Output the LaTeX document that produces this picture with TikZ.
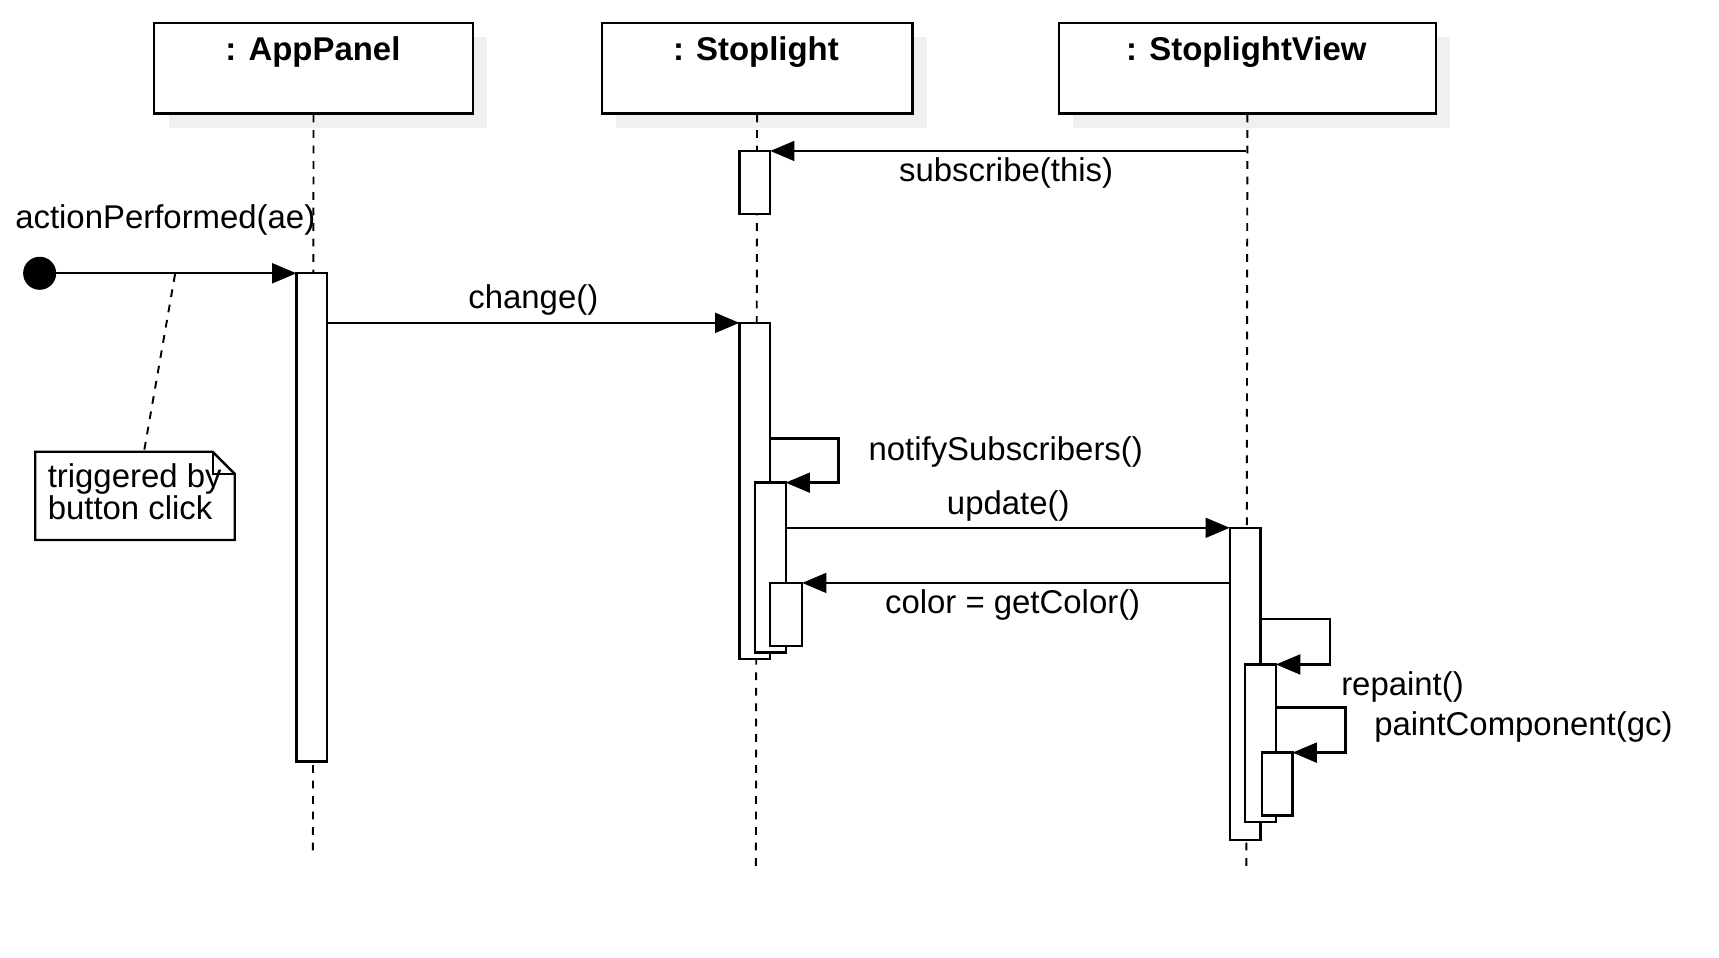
\documentclass[tikz,border=0pt]{standalone}
\usepackage{fontspec}
\setmainfont{Liberation Sans}
\usetikzlibrary{arrows.meta,positioning,shapes.misc}
\tikzset{
  obj/.style={draw,line width=1.2pt,fill=white,minimum width=#1,minimum height=1.64cm,inner sep=0pt},
  shade/.style={fill=black!6},
  act/.style={draw,line width=1.2pt,fill=white},
  life/.style={dashed,line width=1pt,dash pattern=on 4pt off 4pt},
  msg/.style={line width=1.2pt,-{Triangle[length=0.44cm,width=0.36cm]}},
  lbl/.style={font=\fontsize{17}{19}\selectfont},
}
\begin{document}
\begin{tikzpicture}[x=0.02cm,y=-0.02cm]
    \useasboundingbox (0,0) rectangle (1560,869);
    % objects
    \foreach \l/\r in {139/428,545/827,960/1302}
        \fill[shade] (\l+14,34) rectangle (\r+14,116);
    \node[obj=5.78cm,anchor=north west] (app) at (139,20) {};
    \node[obj=5.64cm,anchor=north west] (light) at (545,20) {};
    \node[obj=6.84cm,anchor=north west] (view) at (960,20) {};
    \node[lbl,font=\fontsize{17}{19}\selectfont\bfseries] at (284,47) {: AppPanel};
    \node[lbl,font=\fontsize{17}{19}\selectfont\bfseries] at (686,47) {: Stoplight};
    \node[lbl,font=\fontsize{17}{19}\selectfont\bfseries] at (1131,47) {: StoplightView};
    % lifelines
    \coordinate (append) at (284,775);
    \coordinate (lightend) at (686,787);
    \coordinate (viewend) at (1131,787);
    \draw[life] (app.south) -- (append);
    \draw[life] (light.south) -- (lightend);
    \draw[life] (view.south) -- (viewend);
    % activations
    \draw[act] (269,248) rectangle (297,691);
    \draw[act] (671,137) rectangle (699,194);
    \draw[act] (671,293) rectangle (699,598);
    \draw[act] (685,438) rectangle (713,592);
    \draw[act] (699,529) rectangle (728,586);
    \draw[act] (1116,479) rectangle (1144,762);
    \draw[act] (1130,603) rectangle (1158,746);
    \draw[act] (1145,683) rectangle (1173,740);
    % messages
    \coordinate (sub0) at (1131,137);
    \coordinate (sub1) at (699,137);
    \draw[msg] (sub0) -- (sub1);
    \node[lbl] at (913,157) {subscribe(this)};
    \node[circle,fill=black,minimum size=0.6cm,inner sep=0pt] (start) at (36,248) {};
    \coordinate (ap1) at (269,248);
    \draw[msg] (start.center) -- (ap1);
    \node[lbl] at (150,200) {actionPerformed(ae)};
    \coordinate (ch0) at (297,293);
    \coordinate (ch1) at (671,293);
    \draw[msg] (ch0) -- (ch1);
    \node[lbl] at (484,272) {change()};
    \coordinate (ns0) at (699,398);
    \coordinate (ns1) at (713,438);
    \draw[msg] (ns0) -- (761,398) -- (761,438) -- (ns1);
    \node[lbl,anchor=west] at (782,410) {notifySubscribers()};
    \coordinate (up0) at (713,479);
    \coordinate (up1) at (1116,479);
    \draw[msg] (up0) -- (up1);
    \node[lbl] at (915,459) {update()};
    \coordinate (gc0) at (1116,529);
    \coordinate (gc1) at (728,529);
    \draw[msg] (gc0) -- (gc1);
    \node[lbl] at (919,549) {color = getColor()};
    \coordinate (rp0) at (1144,562);
    \coordinate (rp1) at (1158,603);
    \draw[msg] (rp0) -- (1207,562) -- (1207,603) -- (rp1);
    \node[lbl,anchor=west] at (1211,623) {repaint()};
    \coordinate (pc0) at (1158,642);
    \coordinate (pc1) at (1173,683);
    \draw[msg] (pc0) -- (1221,642) -- (1221,683) -- (pc1);
    \node[lbl,anchor=west] at (1241,660) {paintComponent(gc)};
    % note
    \draw[line width=1.2pt,fill=white] (32,410) -- (193,410) -- (213,430) -- (213,490) -- (32,490) -- cycle;
    \draw[line width=1.2pt] (193,410) -- (193,430) -- (213,430);
    \node[lbl,anchor=north west,align=left,inner sep=0pt,font=\fontsize{17}{17}\selectfont] (note) at (43,420) {triggered by\\button click};
    \coordinate (nt0) at (131,408);
    \coordinate (nt1) at (159,248);
    \draw[life] (nt0) -- (nt1);
\end{tikzpicture}
\end{document}
